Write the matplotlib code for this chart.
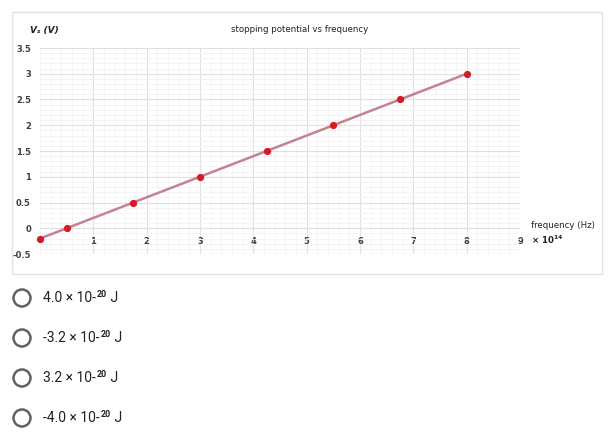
import matplotlib
matplotlib.use("Agg")
import matplotlib.pyplot as plt
from matplotlib.patches import Circle, Rectangle
from matplotlib.ticker import MultipleLocator

# data
freq = [0, 0.5, 1.75, 3.0, 4.25, 5.5, 6.75, 8.0]      # x 10^14 Hz
vs = [-0.2, 0.0, 0.5, 1.0, 1.5, 2.0, 2.5, 3.0]        # V
xticks = [1, 2, 3, 4, 5, 6, 7, 8, 9]
yticks = [-0.5, 0, 0.5, 1, 1.5, 2, 2.5, 3, 3.5]
ytick_labels = ["-0.5", "0", "0.5", "1", "1.5", "2", "2.5", "3", "3.5"]
answers = ["4.0 × 10-", "-3.2 × 10-", "3.2 × 10-", "-4.0 × 10-"]
answer_exp = "20"
answer_unit = " J"

W, H = 609, 444
fig = plt.figure(figsize=(W / 100, H / 100), dpi=100)
fig.patch.set_facecolor("white")

# overlay axes in pixel coords for the box, radio buttons and text
ov = fig.add_axes([0, 0, 1, 1], zorder=0)
ov.set_xlim(0, W)
ov.set_ylim(H, 0)
ov.axis("off")
ov.add_patch(Rectangle((12, 12), 590, 262, fill=False, edgecolor="#e3e3e3", lw=1))

# chart
ax = fig.add_axes([40 / W, 1 - 254 / H, 480 / W, 206 / H], zorder=1)
ax.patch.set_alpha(0)
ax.set_xlim(0, 9)
ax.set_ylim(-0.5, 3.5)
ax.xaxis.set_major_locator(MultipleLocator(1))
ax.xaxis.set_minor_locator(MultipleLocator(0.2))
ax.yaxis.set_major_locator(MultipleLocator(0.5))
ax.yaxis.set_minor_locator(MultipleLocator(0.1))
ax.grid(which="major", color="#e0e0e0", lw=0.8)
ax.grid(which="minor", color="#f2f2f2", lw=0.6)
ax.set_axisbelow(True)
for s in ax.spines.values():
    s.set_visible(False)
ax.spines["bottom"].set_position(("data", 0))
ax.tick_params(which="both", length=0)
ax.tick_params(axis="x", pad=6.5)
ax.tick_params(axis="y", pad=6.5)
ax.set_xticks(xticks)
ax.set_xticklabels([str(t) for t in xticks], fontsize=6, fontweight="bold", color="#404040")
ax.set_yticks(yticks)
ax.set_yticklabels(ytick_labels, fontsize=6, fontweight="bold", color="#404040")

ax.plot(freq, vs, color="#c4848f", lw=1.8, zorder=3)
ax.plot(freq, vs, ls="none", marker="o", ms=4.2, color="#d61a2a", zorder=4, clip_on=False)

ov.text(300, 30, "stopping potential vs frequency", fontsize=6.2, ha="center", va="center",
        color="#222222")
ov.text(30, 30, "Vₛ (V)", fontsize=6.5, fontweight="bold", style="italic", ha="left",
        va="center", color="#222222")
ov.text(531, 225, "frequency (Hz)", fontsize=6.2, ha="left", va="center", color="#222222")
ov.text(531, 240, r"× 10$^{\mathbf{14}}$", fontsize=6.2, fontweight="bold", ha="left",
        va="center", color="#222222")

# answer options
fig.canvas.draw()
renderer = fig.canvas.get_renderer()
for i, txt in enumerate(answers):
    y = 298 + 40 * i
    ov.add_patch(Circle((22, y), 8.5, fill=False, edgecolor="#5f6368", lw=1.8))
    t = ov.text(43, y, txt, fontsize=10, family="Roboto", color="#202124",
                ha="left", va="center")
    bb = t.get_window_extent(renderer)
    t2 = ov.text(bb.x1 + 1, y - 4, answer_exp, fontsize=6.5, family="Roboto",
                 fontweight="bold", color="#202124", ha="left", va="center")
    bb2 = t2.get_window_extent(renderer)
    ov.text(bb2.x1, y, answer_unit, fontsize=10, family="Roboto", color="#202124",
            ha="left", va="center")

fig.savefig("out.png", dpi=100)
